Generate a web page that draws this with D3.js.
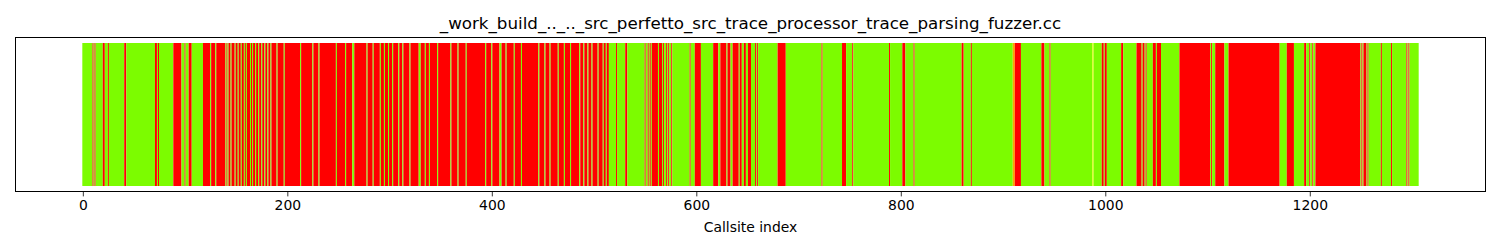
<!DOCTYPE html>
<html><head><meta charset="utf-8">
<script src="https://cdn.jsdelivr.net/npm/d3@7"></script>
<style>body{margin:0;background:#fff}svg{display:block}text{font-family:"DejaVu Sans",sans-serif;fill:#000}</style>
</head><body><div id="chart"></div>
<script>
const title = "_work_build_.._.._src_perfetto_src_trace_processor_trace_parsing_fuzzer.cc";
const xLabel = "Callsite index";
const callsiteCount = 1307;
const xTicks = [0, 200, 400, 600, 800, 1000, 1200];
// uncovered callsite runs [first, last] (red); everything else is covered (green)
const uncoveredRuns = [
 [10,10],[12,12],[20,21],[25,25],[41,42],[71,72],[74,74],[89,96],[100,100],[104,106],
 [118,124],[126,129],[131,139],[141,141],[143,144],[146,148],[150,151],[153,154],[156,157],[159,159],
 [161,163],[165,165],[167,168],[170,171],[173,174],[176,177],[179,180],[182,183],[185,189],[191,196],
 [198,212],[214,224],[226,230],[232,247],[249,256],[258,263],[266,277],[279,283],[285,290],[292,294],
 [296,298],[300,302],[304,308],[310,312],[314,319],[321,328],[331,334],[336,338],[340,346],[348,359],
 [361,366],[368,374],[376,393],[395,399],[401,407],[410,413],[415,421],[423,428],[430,445],[447,451],
 [453,456],[458,464],[466,470],[472,476],[478,485],[487,489],[491,493],[495,497],[499,503],[505,508],
 [510,511],[513,514],[522,522],[531,532],[550,550],[553,553],[555,555],[557,562],[564,566],[568,568],
 [571,571],[573,573],[576,576],[594,594],[599,604],[617,621],[624,629],[631,633],[636,641],[643,644],
 [647,648],[651,653],[658,658],[660,660],[680,687],[723,723],[743,746],[753,753],[789,789],[802,804],
 [813,813],[860,861],[869,869],[912,917],[938,940],[946,946],[997,998],[1000,1001],[1016,1017],
 [1031,1035],[1037,1038],[1040,1040],[1047,1049],[1051,1054],[1073,1102],[1104,1104],[1108,1116],
 [1121,1170],[1178,1184],[1195,1196],[1200,1200],[1203,1203],[1206,1249],[1251,1251],[1253,1255],
 [1257,1257],[1270,1270],[1280,1280],[1295,1295],[1297,1297]
];
// partially covered callsites
const partialRuns = [[910,911,"orange"],[988,988,"yellow"]];
const colors = {covered:"#7CFC00", uncovered:"#FF0000"};

const W = 1500, H = 250;
const m = {left:15.5, right:1485.5, top:37.5, bottom:191.5};
const svg = d3.select("#chart").append("svg").attr("width",W).attr("height",H);

const status = new Array(callsiteCount).fill(colors.covered);
uncoveredRuns.forEach(([a,b]) => { for (let i=a;i<=b;i++) status[i]=colors.uncovered; });
partialRuns.forEach(([a,b,c]) => { for (let i=a;i<=b;i++) status[i]=c; });
// merge consecutive same-coloured callsites into runs
const runs = [];
status.forEach((c,i) => {
  const last = runs[runs.length-1];
  if (last && last.color===c) last.end=i; else runs.push({start:i,end:i,color:c});
});

const pad = 0.05*callsiteCount;
const x = d3.scaleLinear().domain([-0.5-pad, callsiteCount-0.5+pad]).range([m.left,m.right]);
const y = d3.scaleLinear().domain([-0.0385,1.0385]).range([m.bottom,m.top]);

svg.append("g").selectAll("rect").data(runs).join("rect")
  .attr("x", d=>x(d.start-0.5)).attr("width", d=>x(d.end+0.5)-x(d.start-0.5))
  .attr("y", y(1)).attr("height", y(0)-y(1)).attr("fill", d=>d.color);

svg.append("rect").attr("x",m.left).attr("y",m.top).attr("width",m.right-m.left).attr("height",m.bottom-m.top)
  .attr("fill","none").attr("stroke","#000").attr("stroke-width",1);

const ax = svg.append("g").attr("transform",`translate(0,${m.bottom})`)
  .call(d3.axisBottom(x).tickValues(xTicks).tickFormat(d3.format("d")).tickSize(4.9).tickPadding(3.5));
ax.select(".domain").remove();
ax.selectAll("line").attr("stroke","#000").attr("stroke-width",0.8);
ax.selectAll("text").style("font-size","13.9px").attr("fill","#000");

svg.append("text").attr("x",(m.left+m.right)/2).attr("y",29).attr("text-anchor","middle")
  .style("font-size","16.7px").text(title);
svg.append("text").attr("x",(m.left+m.right)/2).attr("y",232).attr("text-anchor","middle")
  .style("font-size","13.9px").text(xLabel);
</script></body></html>
